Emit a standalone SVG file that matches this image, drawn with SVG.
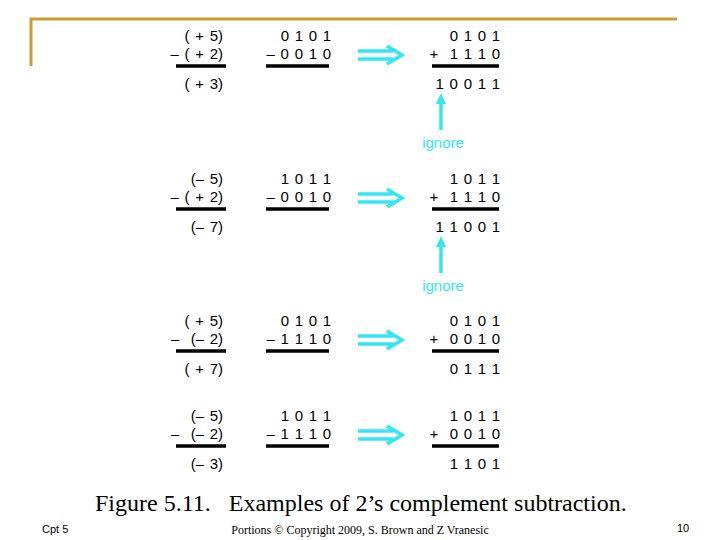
<svg xmlns="http://www.w3.org/2000/svg" width="720" height="540" viewBox="0 0 720 540" xml:space="preserve">
<style>
text{white-space:pre}
.t{font-family:"Liberation Sans",Arial,sans-serif;font-size:15px;fill:#000;text-anchor:end;word-spacing:1.5px}
.ul{stroke:#000;stroke-width:3.5}
.ar{stroke:#33e6f2;stroke-width:3.5;fill:none}
.ig{font-family:"Liberation Sans",Arial,sans-serif;font-size:15px;fill:#33e6f2;text-anchor:middle}
</style>
<defs>
<g id="arrow"><path class="ar" d="M358,51 H393 M358,59 H393 M387,46 L402,55 L387,64"/></g>
<g id="ign"><path class="ar" d="M441,130 V102"/><path d="M436,104 L441,93 L446,104 Z" fill="#33e6f2"/></g>
</defs>
<rect width="720" height="540" fill="#fff"/>
<path d="M31,66 V19 H677" fill="none" stroke="#c8a030" stroke-width="3"/>
<g id="ex1">
<text class="t" x="223" y="41">( + 5)</text><text class="t" x="223" y="59">– ( + 2)</text><text class="t" x="223" y="89">( + 3)</text>
<text class="t" x="331" y="41">0 1 0 1</text><text class="t" x="331" y="59">– 0 0 1 0</text>
<text class="t" x="500" y="41">0 1 0 1</text><text class="t" x="500" y="59">+  1 1 1 0</text><text class="t" x="500" y="89">1 0 0 1 1</text>
<path class="ul" d="M176,66 H226 M266,66 H329 M432,66 H499"/>
</g>
<g id="ex2" transform="translate(0,143)">
<text class="t" x="223" y="41">(– 5)</text><text class="t" x="223" y="59">– ( + 2)</text><text class="t" x="223" y="89">(– 7)</text>
<text class="t" x="331" y="41">1 0 1 1</text><text class="t" x="331" y="59">– 0 0 1 0</text>
<text class="t" x="500" y="41">1 0 1 1</text><text class="t" x="500" y="59">+  1 1 1 0</text><text class="t" x="500" y="89">1 1 0 0 1</text>
<path class="ul" d="M176,66 H226 M266,66 H329 M432,66 H499"/>
</g>
<g id="ex3" transform="translate(0,285)">
<text class="t" x="223" y="41">( + 5)</text><text class="t" x="223" y="59">–  (– 2)</text><text class="t" x="223" y="89">( + 7)</text>
<text class="t" x="331" y="41">0 1 0 1</text><text class="t" x="331" y="59">– 1 1 1 0</text>
<text class="t" x="500" y="41">0 1 0 1</text><text class="t" x="500" y="59">+  0 0 1 0</text><text class="t" x="500" y="89">0 1 1 1</text>
<path class="ul" d="M176,66 H226 M266,66 H329 M432,66 H499"/>
</g>
<g id="ex4" transform="translate(0,380)">
<text class="t" x="223" y="41">(– 5)</text><text class="t" x="223" y="59">–  (– 2)</text><text class="t" x="223" y="89">(– 3)</text>
<text class="t" x="331" y="41">1 0 1 1</text><text class="t" x="331" y="59">– 1 1 1 0</text>
<text class="t" x="500" y="41">1 0 1 1</text><text class="t" x="500" y="59">+  0 0 1 0</text><text class="t" x="500" y="89">1 1 0 1</text>
<path class="ul" d="M176,66 H226 M266,66 H329 M432,66 H499"/>
</g>
<g id="connectors">
<use href="#arrow"/>
<use href="#arrow" y="143"/>
<use href="#arrow" y="285"/>
<use href="#arrow" y="380"/>
<use href="#ign"/>
<use href="#ign" y="143"/>
</g>
<text class="ig" x="443" y="148">ignore</text>
<text class="ig" x="443" y="291">ignore</text>
<text x="95" y="511" font-family="Liberation Serif,serif" font-size="24">Figure 5.11.   Examples of 2’s complement subtraction.</text>
<text x="42" y="533" font-family="Liberation Sans,sans-serif" font-size="11">Cpt 5</text>
<text x="360" y="534" font-family="Liberation Serif,serif" font-size="12" text-anchor="middle">Portions © Copyright 2009, S. Brown and Z Vranesic</text>
<text x="677" y="532" font-family="Liberation Sans,sans-serif" font-size="11">10</text>
</svg>
